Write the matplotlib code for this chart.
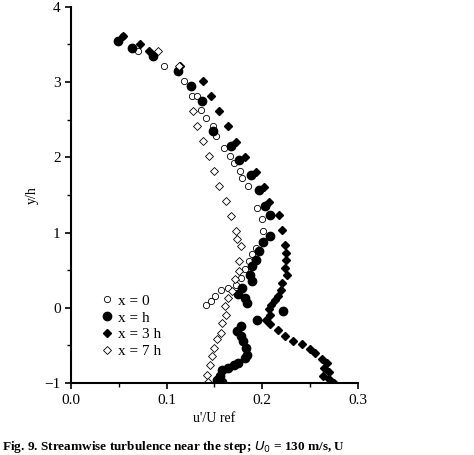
import matplotlib
matplotlib.use("Agg")
import matplotlib.pyplot as plt
from matplotlib.ticker import MultipleLocator

x0_u = [0.054,0.070,0.097,0.118,0.126,0.132,0.136,0.141,0.148,0.152,0.160,0.166,0.170,0.177,0.179,0.185,0.194,0.200,0.201,0.200,0.193,0.189,0.186,0.182,0.178,0.172,0.164,0.157,0.151,0.146,0.141]
x0_y = [3.61,3.41,3.21,3.01,2.81,2.81,2.63,2.52,2.41,2.28,2.13,2.02,1.93,1.82,1.73,1.62,1.33,1.18,1.02,0.87,0.80,0.71,0.62,0.51,0.40,0.31,0.27,0.24,0.16,0.09,0.04]

xh_u = [0.049,0.064,0.086,0.112,0.125,0.137,0.148,0.167,0.176,0.188,0.197,0.203,0.208,0.208,0.201,0.197,0.193,0.189,0.187,0.189,0.179,0.175,0.182,0.184,0.222,0.194,0.178,0.174,0.178,0.180,0.183,0.184,0.182,0.175,0.170,0.164,0.158,0.156,0.153,0.158]
xh_y = [3.55,3.45,3.34,3.15,2.95,2.75,2.35,2.15,1.96,1.76,1.56,1.36,1.24,0.96,0.87,0.76,0.64,0.56,0.44,0.36,0.27,0.18,0.13,0.07,-0.04,-0.16,-0.24,-0.31,-0.38,-0.44,-0.53,-0.62,-0.67,-0.73,-0.76,-0.80,-0.82,-0.91,-0.96,-0.98]

x3h_u = [0.054,0.072,0.082,0.114,0.138,0.146,0.155,0.164,0.173,0.182,0.193,0.202,0.207,0.218,0.221,0.224,0.225,0.225,0.224,0.226,0.221,0.220,0.216,0.213,0.209,0.207,0.208,0.204,0.208,0.216,0.224,0.232,0.242,0.250,0.255,0.262,0.268,0.265,0.270,0.263,0.270,0.275]
x3h_y = [3.61,3.51,3.41,3.21,3.01,2.81,2.61,2.41,2.21,2.01,1.81,1.61,1.41,1.24,1.03,0.84,0.73,0.63,0.53,0.44,0.33,0.24,0.16,0.11,0.04,-0.02,-0.09,-0.16,-0.22,-0.29,-0.38,-0.44,-0.48,-0.55,-0.60,-0.68,-0.73,-0.80,-0.85,-0.90,-0.95,-1.00]

x7h_u = [0.091,0.113,0.128,0.132,0.138,0.144,0.150,0.155,0.162,0.167,0.172,0.174,0.178,0.176,0.176,0.171,0.168,0.164,0.161,0.162,0.158,0.157,0.153,0.150,0.147,0.145,0.142,0.143]
x7h_y = [3.41,3.22,2.62,2.42,2.22,2.02,1.82,1.62,1.42,1.22,1.02,0.91,0.82,0.62,0.49,0.38,0.22,0.13,0.02,-0.09,-0.20,-0.33,-0.42,-0.53,-0.64,-0.76,-0.89,-0.98]

plt.rcParams['font.family'] = ['Liberation Serif', 'DejaVu Serif']
fig = plt.figure(figsize=(4.74, 4.55), dpi=100)
ax = fig.add_axes([0.150, 0.158, 0.605, 0.827])
ms = 5
ax.plot(x0_u, x0_y, 'o', mfc='white', mec='black', mew=0.6, ms=ms-0.5, label='x = 0')
ax.plot(xh_u, xh_y, 'o', mfc='black', mec='black', ms=ms+1, label='x = h')
ax.plot(x3h_u, x3h_y, 'D', mfc='black', mec='black', ms=ms-1, label='x = 3 h')
ax.plot(x7h_u, x7h_y, 'D', mfc='white', mec='black', mew=0.6, ms=ms-1, label='x = 7 h')
ax.set_xlim(0, 0.3)
ax.set_ylim(-1, 4)
ax.xaxis.set_major_locator(MultipleLocator(0.1))
ax.xaxis.set_minor_locator(MultipleLocator(0.05))
ax.yaxis.set_major_locator(MultipleLocator(1))
ax.yaxis.set_minor_locator(MultipleLocator(0.5))
ax.xaxis.set_major_formatter(matplotlib.ticker.FormatStrFormatter('%.1f'))
for s in ['top', 'right']:
    ax.spines[s].set_visible(False)
ax.spines['left'].set_linewidth(1.5)
ax.spines['bottom'].set_linewidth(1.5)
ax.tick_params(labelsize=11, width=1.2, length=4)
ax.tick_params(which='minor', width=1, length=3)
ax.set_xlabel("u'/U ref", fontsize=10)
ax.set_ylabel("y/h", fontsize=10)
ax.legend(loc='lower left', bbox_to_anchor=(0.05, 0.03), frameon=False, fontsize=11,
          handletextpad=0.2, labelspacing=0.2, handlelength=1)
fig.text(0.005, 0.01, "Fig. 9. Streamwise turbulence near the step; $U_0$ = 130 m/s, U",
         fontsize=9.5, fontweight='bold')
fig.savefig('out.png', dpi=100)
